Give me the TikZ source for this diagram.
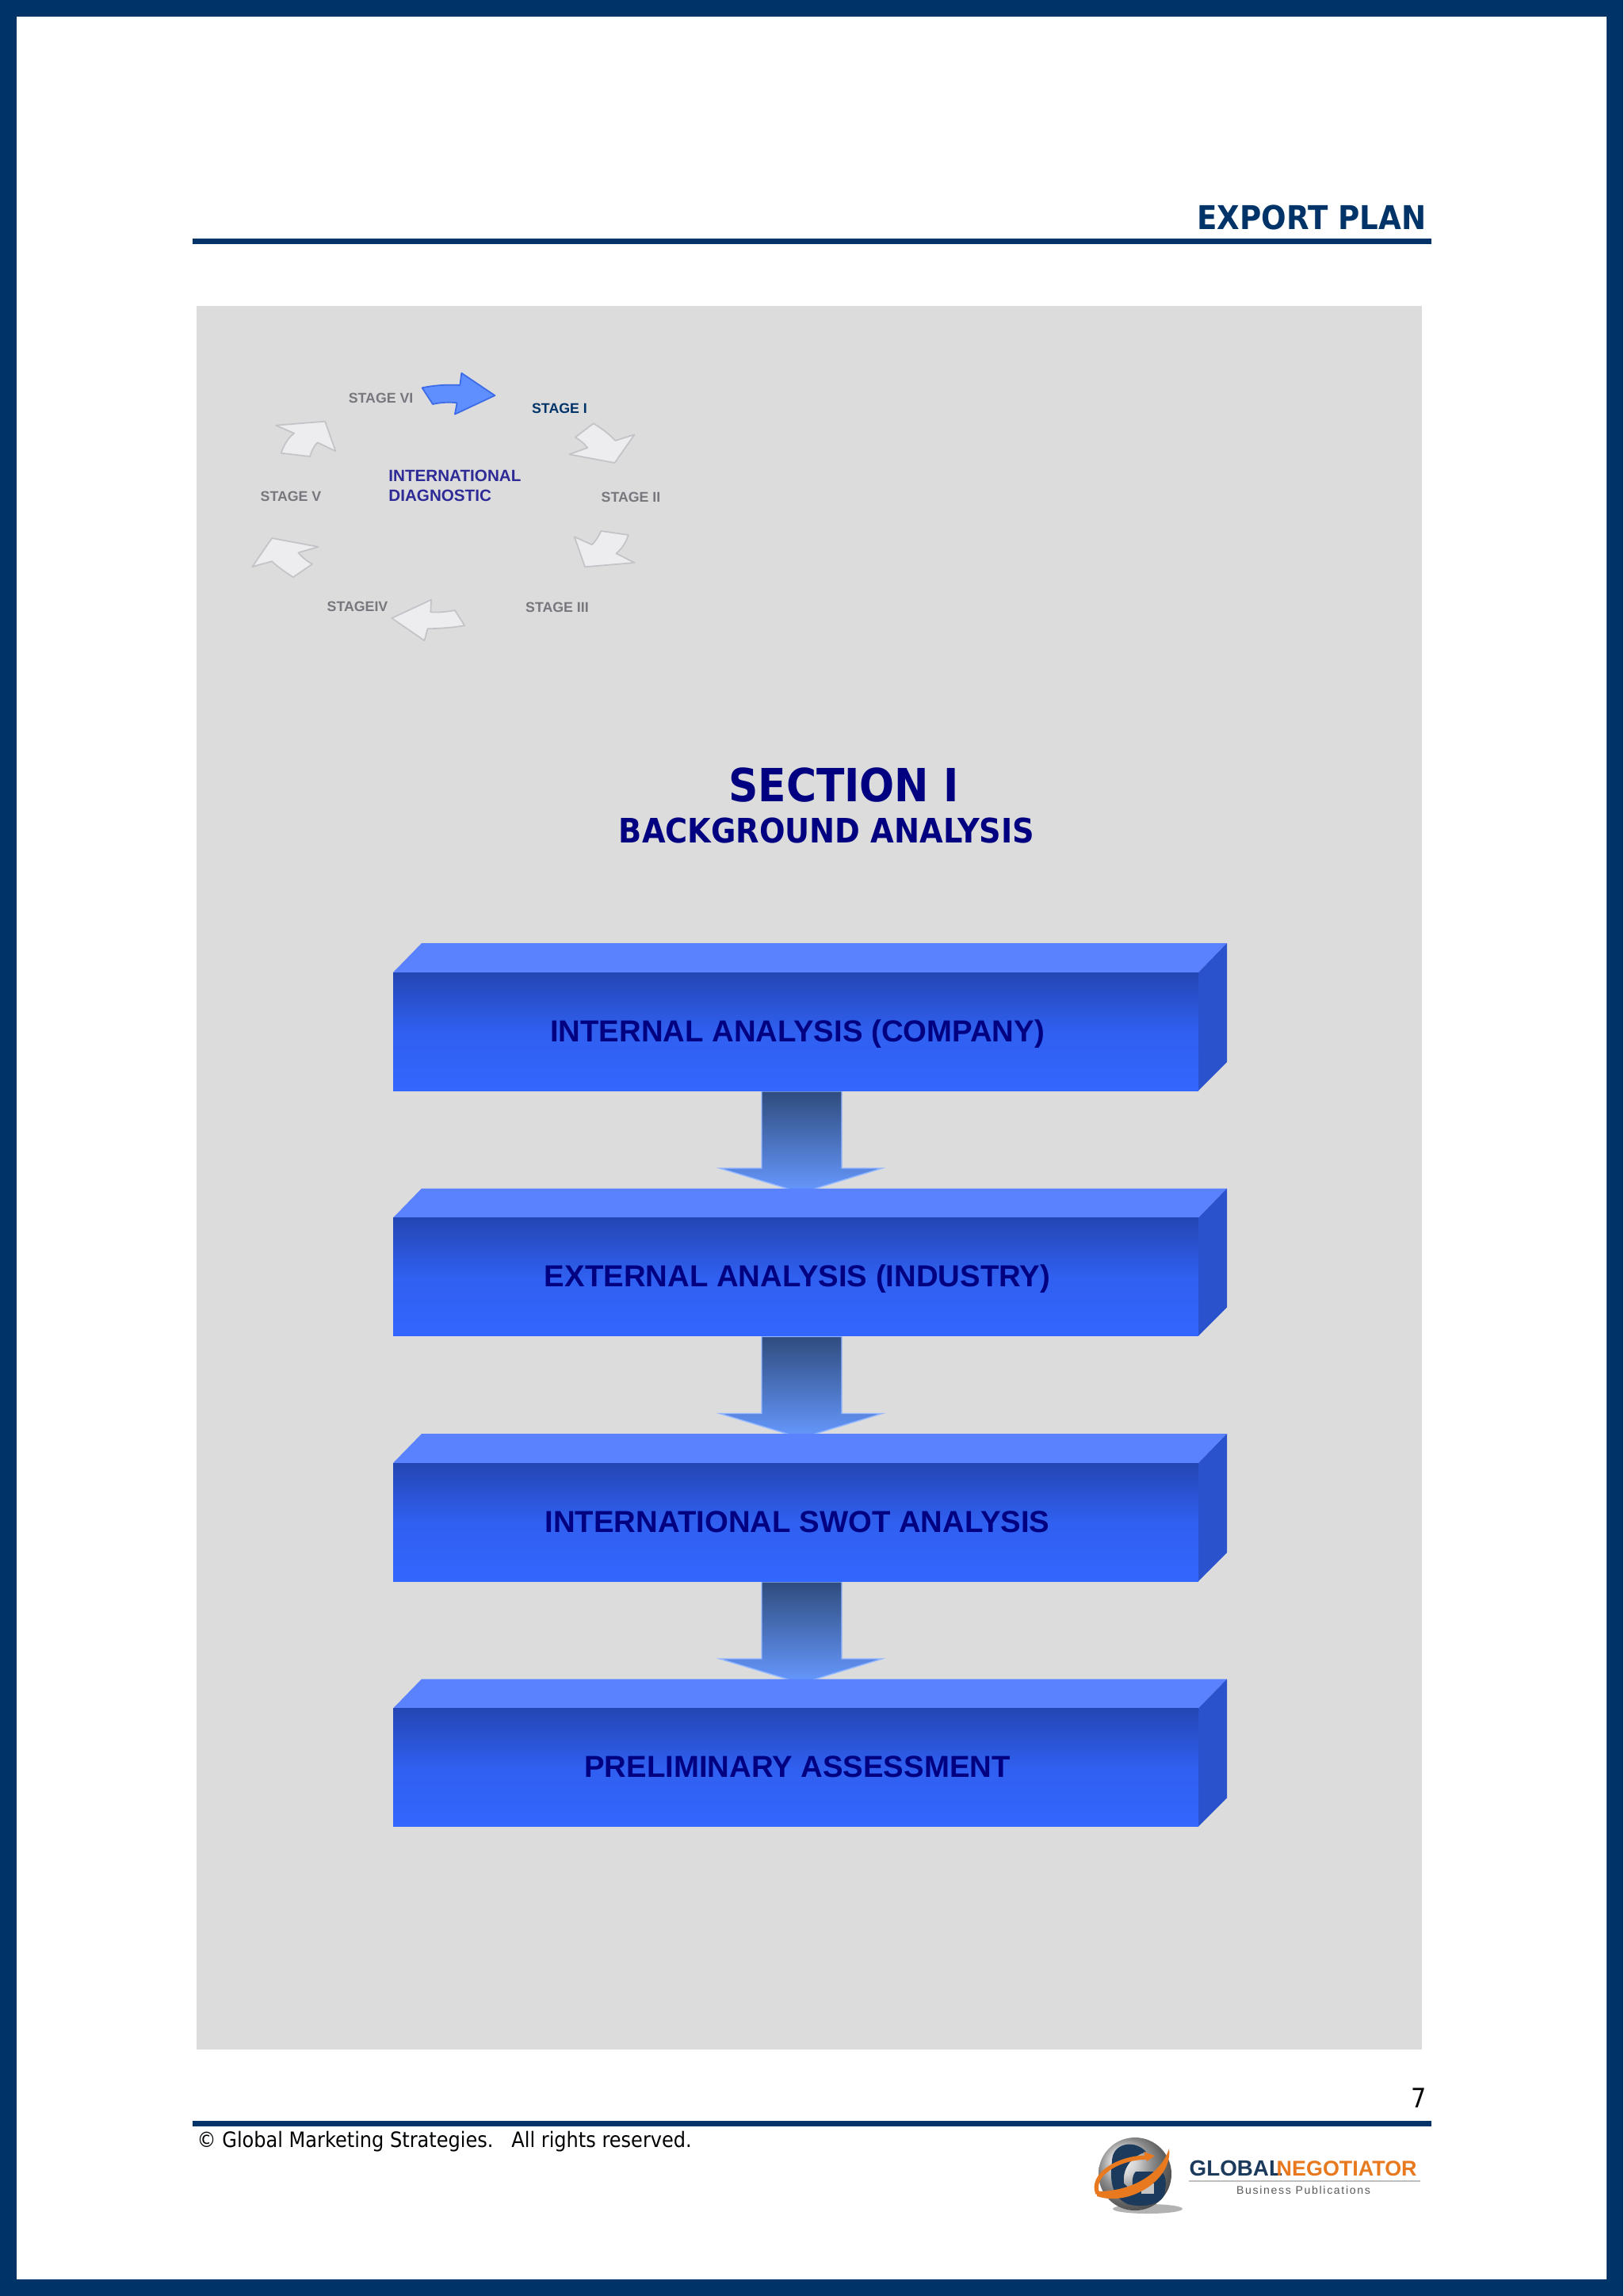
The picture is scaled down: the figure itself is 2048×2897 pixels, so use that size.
\documentclass[tikz,border=0pt]{standalone}
\usepackage{tikz}
\usepackage{fontspec}
\usepackage{color}
\setmainfont{Liberation Sans}
\newfontfamily\tahomafont{DejaVu Sans Condensed}

\definecolor{framenavy}{HTML}{003468}
\definecolor{panelgray}{HTML}{DCDCDD}
\definecolor{titlenavy}{HTML}{000080}
\definecolor{stagegray}{HTML}{77777D}
\definecolor{stagefill}{HTML}{EDEDEF}
\definecolor{stageedge}{HTML}{C4C4C8}
\definecolor{activeblue}{HTML}{5F8FFF}
\definecolor{activeedge}{HTML}{3D6BE8}
\definecolor{diagblue}{HTML}{2E2A96}
\definecolor{boxtop}{HTML}{5A82FF}
\definecolor{boxside}{HTML}{2A52CC}
\definecolor{boxdark}{HTML}{2446B4}
\definecolor{boxlight}{HTML}{3366FF}
\definecolor{flowdark}{HTML}{2F4C7E}
\definecolor{flowlight}{HTML}{6699FF}
\definecolor{logoorange}{HTML}{E8791E}
\definecolor{logonavy}{HTML}{1B3A5C}

\tikzset{
	x=0.01cm,y=-0.01cm,
	stagearrow/.style={draw=stageedge,fill=stagefill,line width=0.5pt,line join=round},
	activearrow/.style={draw=activeedge,fill=activeblue,line width=0.5pt,line join=round},
	stagelabel/.style={font=\bfseries\fontsize{5.05}{6}\selectfont,text=stagegray,inner sep=0pt},
	diaglabel/.style={font=\bfseries\fontsize{5.87}{7}\selectfont,text=diagblue,inner sep=0pt,anchor=west},
	boxlabel/.style={font=\bfseries\fontsize{10.9}{12}\selectfont,text=titlenavy,inner sep=0pt,anchor=base},
	tahomalabel/.style={font=\tahomafont,inner sep=0pt},
}

\newcommand{\stagebox}[2]{%
	\draw[fill=boxtop,draw=none] (496,#1+37)--(532,#1)--(1548,#1)--(1512,#1+37)--cycle;
	\draw[fill=boxside,draw=none] (1512,#1+37)--(1548,#1)--(1548,#1+150)--(1512,#1+186)--cycle;
	\shade[top color=boxdark,bottom color=boxlight,middle color=boxlight!80!boxdark] (496,#1+37) rectangle (1512,#1+186);
	\node[boxlabel] at (1006,#1+124) {#2};
}
\newcommand{\flowarrow}[1]{%
	\shade[top color=flowdark,bottom color=flowlight,draw=flowlight!70!white,line width=0.4pt]
		(961,#1)--(1062,#1)--(1062,#1+97)--(1113,#1+97)--(1011,#1+128)--(908,#1+97)--(961,#1+97)--cycle;
}

\begin{document}
\begin{tikzpicture}
	\useasboundingbox (0,0) rectangle (2048,2897);
	\fill[framenavy] (0,0) rectangle (2048,2897);
	\fill[white] (21,21) rectangle (2027,2876);

	% header
	\fill[framenavy] (243,301) rectangle (1806,308);
	\node[tahomalabel,anchor=east,text=framenavy,font=\tahomafont\bfseries\fontsize{11.75}{13}\selectfont] (header) at (1800,274) {EXPORT PLAN};

	% panel
	\fill[panelgray] (248,386) rectangle (1794,2586);

	% stage wheel
	\draw[activearrow] (532.6,489.3) .. controls (548,486) and (565,485) .. (580.4,486)--(582.3,470.7)--(624.4,499)--(573.9,522.7)--(576.6,508.3) .. controls (565,507) and (555,508) .. (546,510)--cycle;
	\draw[stagearrow] (748.8,534.3) .. controls (760,541) and (770,549) .. (776.4,556)--(800.5,548.3)--(775.6,584)--(718.2,573.3)--(741.2,565) .. controls (737,559) and (731,555) .. (725.8,551.7)--cycle;
	\draw[stagearrow] (758.4,670)--(792.8,675) .. controls (790,684) and (785,692) .. (777.5,698.3)--(800.5,710)--(738.1,715.3)--(724.7,677.3)--(746.9,687.3) .. controls (752,682) and (755,677) .. (758.4,670)--cycle;
	\draw[stagearrow] (494.3,780)--(544.1,756.7)--(543.3,772.3) .. controls (553,773) and (564,772) .. (573.9,770)--(586.2,789.3) .. controls (570,792) and (555,793) .. (539.5,793.3)--(535.6,808.3)--cycle;
	\draw[stagearrow] (318.3,715)--(343.1,679)--(401.7,690)--(376.4,697.3) .. controls (381,703) and (387,708) .. (394,711.7)--(369.9,728.3) .. controls (360,722) and (350,715) .. (343.1,708.3)--cycle;
	\draw[stagearrow] (410.1,531.7)--(423.5,569.3)--(400.6,558.3) .. controls (396,563) and (393,569) .. (391,576)--(354.6,571.7) .. controls (358,562) and (363,553) .. (371.1,546.7)--(348.1,536.7)--cycle;

	\node[stagelabel] (stagesix) at (480.6,502) {STAGE VI};
	\node[stagelabel,text=framenavy] (stageone) at (706,515) {STAGE I};
	\node[stagelabel] (stagetwo) at (796,627.7) {STAGE II};
	\node[stagelabel] (stagethree) at (703,766) {STAGE III};
	\node[stagelabel] (stagefour) at (451,765) {STAGEIV};
	\node[stagelabel] (stagefive) at (367,626) {STAGE V};
	\node[diaglabel] (diagone) at (489.7,600) {INTERNATIONAL};
	\node[diaglabel] (diagtwo) at (489.7,625) {DIAGNOSTIC};

	% section title
	\node[tahomalabel,text=titlenavy,font=\tahomafont\bfseries\fontsize{16.4}{17}\selectfont] (section) at (1064.5,990) {SECTION I};
	\node[tahomalabel,text=titlenavy,font=\tahomafont\bfseries\fontsize{12.1}{13}\selectfont] (background) at (1043,1048) {BACKGROUND ANALYSIS};

	% flow
	\flowarrow{1377}
	\flowarrow{1686.5}
	\flowarrow{1996}
	\stagebox{1190}{INTERNAL ANALYSIS (COMPANY)}
	\stagebox{1499.5}{EXTERNAL ANALYSIS (INDUSTRY)}
	\stagebox{1809}{INTERNATIONAL SWOT ANALYSIS}
	\stagebox{2118.5}{PRELIMINARY ASSESSMENT}

	% footer
	\node[tahomalabel,anchor=east,font=\tahomafont\fontsize{9.6}{10}\selectfont] (pagenum) at (1800,2647) {7};
	\fill[framenavy] (243,2676) rectangle (1806,2683);
	\node[tahomalabel,anchor=west,font=\tahomafont\fontsize{7.6}{9}\selectfont] (copyright) at (248,2702) {© Global Marketing Strategies.\ \ \ All rights reserved.};

	% logo
	\fill[black!30] (1448,2787) ellipse (44 and 6);
	\shade[ball color=gray!45] (1432,2743) circle (46);
	\fill[logonavy] (1446,2715) .. controls (1430,2698) and (1403,2705) .. (1403,2727) .. controls (1400,2750) and (1402,2772) .. (1423,2781) .. controls (1440,2786) and (1470,2783) .. (1470,2763) .. controls (1472,2752) and (1470,2745) .. (1466,2740)--(1433,2740) .. controls (1428,2745) and (1428,2755) .. (1430,2766)--(1418,2755) .. controls (1416,2738) and (1425,2722) .. (1446,2715);
	\fill[gray!45] (1440,2755) rectangle (1456,2768);
	\fill[logoorange] (1384,2771) .. controls (1425,2785) and (1480,2750) .. (1475,2711) .. controls (1465,2742) and (1430,2765) .. (1384,2765)--cycle;
	\draw[logoorange,line width=1.5pt] (1385,2768) .. controls (1375,2745) and (1410,2722) .. (1448,2722);
	\fill[logoorange] (1443,2715)--(1457,2720)--(1447,2727)--cycle;
	\node[inner sep=0pt,anchor=west,text=logonavy,font=\bfseries\fontsize{7.9}{10}\selectfont] (logoone) at (1500,2736) {GLOBAL};
	\node[inner sep=0pt,anchor=west,text=logoorange,font=\bfseries\fontsize{7.65}{10}\selectfont] (logotwo) at (1610,2736) {NEGOTIATOR};
	\draw[gray!50,line width=0.5pt] (1500,2752)--(1792,2752);
	\node[inner sep=0pt,text=black!65,font=\addfontfeature{LetterSpace=12}\fontsize{4}{5}\selectfont] (logothree) at (1644.5,2763) {Business Publications};
\end{tikzpicture}
\end{document}
